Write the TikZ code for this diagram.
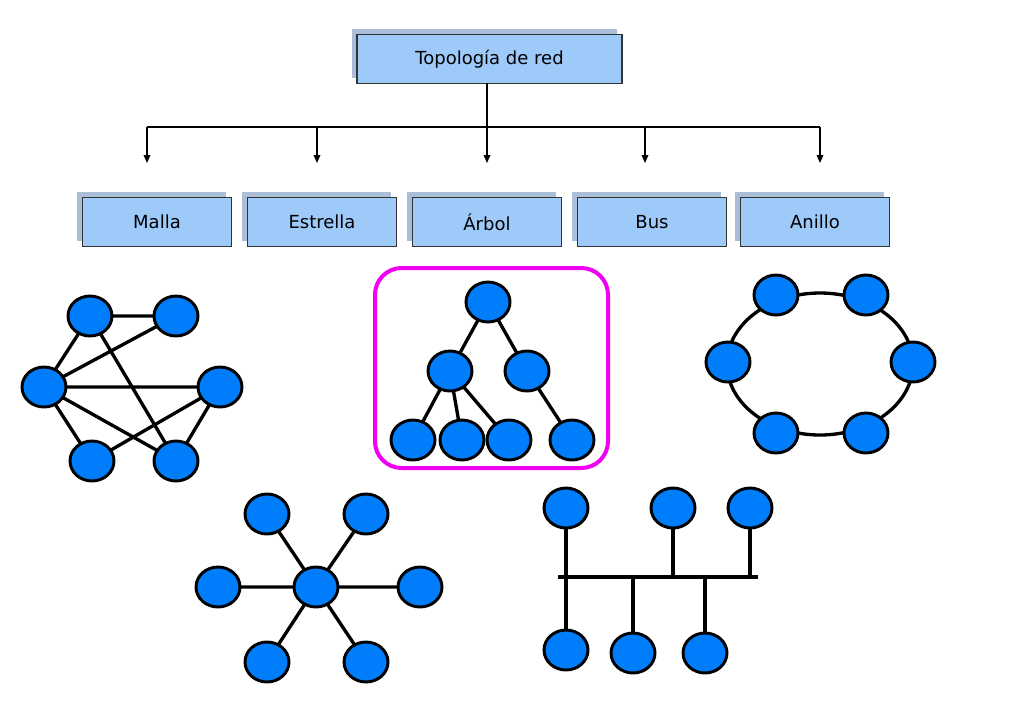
\documentclass[tikz,border=0pt]{standalone}
\usepackage{fontspec}
\setmainfont{DejaVu Sans}
\usetikzlibrary{arrows.meta,shapes.geometric}
\definecolor{boxf}{RGB}{158,202,250}
\definecolor{shad}{RGB}{170,190,215}
\definecolor{nodeb}{RGB}{0,125,250}
\definecolor{mag}{RGB}{240,0,240}
\begin{document}
\begin{tikzpicture}[x=0.75pt,y=-0.75pt,
  cat/.style={draw=black!80,line width=1.2pt,fill=boxf,minimum width=112pt,minimum height=37pt,inner sep=0pt,font=\fontsize{13.5}{15}\selectfont,
    preaction={fill=shad,transform canvas={shift={(-4pt,4pt)}}}},
  nd/.style={ellipse,draw=black,line width=2.2pt,fill=nodeb,minimum width=33pt,minimum height=30pt,inner sep=0pt},
  ln/.style={line width=2.5pt},
  arr/.style={-{Triangle[width=5pt,length=6pt]},line width=0.9pt}]
\useasboundingbox (0,0) rectangle (1027,718);
\fill[white] (0,0) rectangle (1027,718);
% top
\node[cat,minimum width=199pt] (top) at (489.5,59) {Topología de red};
\node[cat] (malla) at (157,222) {Malla};
\node[cat] (estr) at (322,222) {Estrella};
\node[cat] (arb) at (487,222) {Árbol};
\node[cat] (bus) at (652,222) {Bus};
\node[cat] (ani) at (815,222) {Anillo};
\coordinate (j) at (487,127);
\coordinate (jt) at (487,83);
\coordinate (jl) at (147,127);
\coordinate (jr) at (820,127);
\draw[line width=0.9pt] (jt) -- (j);
\draw[line width=0.9pt] (jl) -- (jr);
\foreach \x in {147,317,487,645,820}{\draw[arr] (\x,127) -- (\x,163);}
% mesh
\coordinate (ma) at (90,316); \coordinate (mb) at (176,316); \coordinate (mc) at (44,387);
\coordinate (md) at (220,387); \coordinate (me) at (92,461); \coordinate (mf) at (176,461);
\draw[ln] (ma)--(mb) (mc)--(ma) (mc)--(mb) (mc)--(md) (mc)--(me) (mc)--(mf) (ma)--(mf) (md)--(me) (md)--(mf);
\foreach \n in {a,b,c,d,e,f}{\node[nd] (nm\n) at (m\n) {};}
% tree
\draw[mag,line width=3pt,rounded corners=20pt] (375,268) rectangle (608,468);
\coordinate (t0) at (488,302); \coordinate (t1) at (450,371); \coordinate (t2) at (527,371);
\coordinate (t3) at (413,440); \coordinate (t4) at (462,440); \coordinate (t5) at (509,440); \coordinate (t6) at (572,440);
\draw[ln] (t0)--(t1) (t0)--(t2) (t1)--(t3) (t1)--(t4) (t1)--(t5) (t2)--(t6);
\foreach \n in {0,...,6}{\node[nd] (nt\n) at (t\n) {};}
% ring
\draw[ln] (820,364) ellipse (93 and 71);
\node[nd] (r1) at (776,295) {}; \node[nd] (r2) at (866,295) {}; \node[nd] (r3) at (913,362) {};
\node[nd] (r4) at (866,433) {}; \node[nd] (r5) at (776,433) {}; \node[nd] (r6) at (728,362) {};
% star
\coordinate (s0) at (316,587);
\coordinate (s1) at (267,514); \coordinate (s2) at (366,514); \coordinate (s3) at (218,587);
\coordinate (s4) at (420,587); \coordinate (s5) at (267,662); \coordinate (s6) at (366,662);
\draw[ln] (s0)--(s1) (s0)--(s2) (s0)--(s3) (s0)--(s4) (s0)--(s5) (s0)--(s6);
\foreach \n in {0,...,6}{\node[nd] (ns\n) at (s\n) {};}
% bus
\coordinate (bl) at (558,577); \coordinate (br) at (758,577);
\draw[ln] (bl) -- (br);
\coordinate (b1) at (566,508); \coordinate (b2) at (673,508); \coordinate (b3) at (750,508);
\coordinate (b4) at (566,650); \coordinate (b5) at (633,653); \coordinate (b6) at (705,653);
\draw[ln] (b1)--(b4) (b2)--(673,577) (b3)--(750,577) (b5)--(633,577) (b6)--(705,577);
\foreach \n in {1,...,6}{\node[nd] (nb\n) at (b\n) {};}
\end{tikzpicture}
\end{document}
